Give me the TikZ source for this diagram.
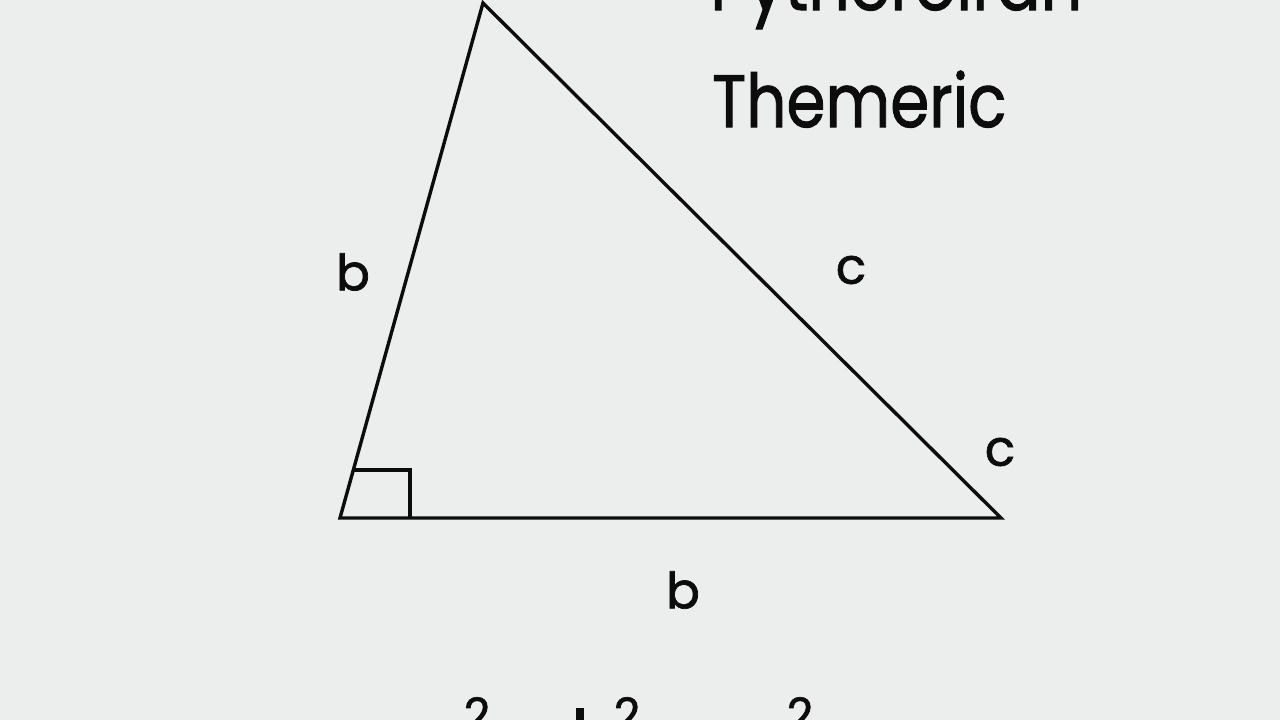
\documentclass[tikz,border=0pt]{standalone}
\usepackage{fontspec}
\setmainfont{Poppins}
\newfontfamily\medfont{Poppins}[FakeBold=1.4]
\definecolor{bg}{RGB}{236,237,237}
\definecolor{ink}{RGB}{12,12,12}
\tikzset{
  edge/.style={draw=ink, line width=3.4pt, line join=miter},
  lbl/.style={text=ink, font=\medfont\fontsize{50}{50}\selectfont, inner sep=0pt},
  title/.style={text=ink, font=\medfont\fontsize{74}{74}\selectfont, inner sep=0pt, anchor=base west},
  eq/.style={text=ink, font=\medfont\fontsize{72}{72}\selectfont, inner sep=0pt, anchor=base},
  sup/.style={text=ink, font=\medfont\fontsize{46}{46}\selectfont, inner sep=0pt, anchor=north}
}
\begin{document}
\begin{tikzpicture}[x=1pt,y=-1pt]
\useasboundingbox (0,0) rectangle (1280,720);
\fill[bg] (0,0) rectangle (1280,720);
\clip (0,0) rectangle (1280,720);
% vertices
\coordinate (A) at (340,518);
\coordinate (B) at (483,3);
\coordinate (C) at (1001,518);
\coordinate (R1) at (410,518);
\coordinate (R2) at (410,470);
\coordinate (R3) at (353,470);
\draw[edge] (A) -- (B) -- (C) -- cycle;
\draw[edge] (R1) -- (R2) -- (R3);
% labels
\node[lbl] (lb1) at (353,272) {b};
\node[lbl] (lc1) at (851,270) {c};
\node[lbl] (lc2) at (1000,452) {c};
\node[lbl] (lb2) at (683,590) {b};
% title
\node[title] (t1) at (710,10) {\scalebox{0.88}[1]{Pytheroiran}};
\node[title] (t2) at (712,127) {\scalebox{0.85}[1]{Themeric}};
% equation (cut off at bottom)
\node[eq, anchor=base east] (ea) at (460,762) {a};
\node[sup] (s1) at (477,697) {2};
\node[eq] (plus) at (525,775) {+};
\node[eq, anchor=base west] (eb) at (571,762) {b};
\node[sup] (s2) at (627,697) {2};
\node[eq] (equ) at (705,762) {=};
\node[eq, anchor=base east] (ec) at (786,762) {c};
\node[sup] (s3) at (800,697) {2};
\end{tikzpicture}
\end{document}
